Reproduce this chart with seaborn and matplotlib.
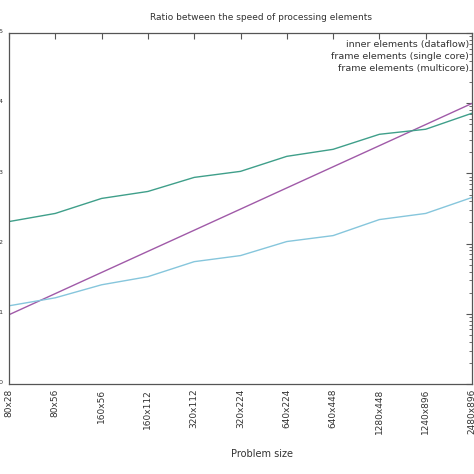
import matplotlib
matplotlib.use("Agg")
import matplotlib.pyplot as plt
import pandas as pd
import seaborn as sns

sizes = ["80x28", "80x56", "160x56", "160x112", "320x112", "320x224",
         "640x224", "640x448", "1280x448", "1240x896", "2480x896"]

inner_dataflow = [9.7, 19.4, 38.8, 77.6, 155, 310, 621, 1242, 2483, 4966, 9933]
frame_single = [206, 269, 440, 553, 877, 1069, 1750, 2203, 3606, 4256, 7194]
frame_multi = [13.0, 16.9, 25.9, 33.8, 55.3, 67.5, 107, 130, 220, 269, 454]

names = ["inner elements (dataflow)", "frame elements (single core)",
         "frame elements (multicore)"]
colors = ["#a05aa8", "#3f9f8a", "#86c6dc"]

df = pd.DataFrame({
    "pos": list(range(len(sizes))) * 3,
    "ratio": inner_dataflow + frame_single + frame_multi,
    "series": [n for n in names for _ in sizes],
})

sns.set_style("white")
plt.rcParams["font.family"] = ["DejaVu Sans"]

fig = plt.figure(figsize=(4.74, 4.74), dpi=100)
ax = fig.add_axes([9 / 474, 1 - 384 / 474, (472 - 9) / 474, (384 - 33) / 474])

sns.lineplot(data=df, x="pos", y="ratio", hue="series", palette=colors,
             linewidth=1.0, ax=ax, legend=True)

ax.set_yscale("log")
ax.set_ylim(1, 1e5)
ax.set_xlim(0, len(sizes) - 1)
ax.set_xticks(range(len(sizes)))
ax.set_xticklabels(sizes, rotation=90, fontsize=6.5, color="#333333")
ax.tick_params(axis="y", labelsize=6.5, labelcolor="#333333")
ax.tick_params(which="both", direction="in", top=True, right=True,
               color="#555555")
ax.tick_params(which="major", length=4, width=0.8)
ax.tick_params(which="minor", length=2, width=0.6)
for s in ax.spines.values():
    s.set_color("#555555")
    s.set_linewidth(0.9)

ax.set_xlabel("")
ax.set_ylabel("")
fig.text(262 / 474, 1 - 454 / 474, "Problem size", ha="center", va="center",
         fontsize=7, color="#333333")
fig.text(261 / 474, 1 - 17 / 474, "Ratio between the speed of processing elements",
         ha="center", va="center", fontsize=6.5, color="#333333")

# key samples sit right of the text, past the cropped edge
handles, labels = ax.get_legend_handles_labels()
ax.legend(handles, labels, markerfirst=False, frameon=False, fontsize=6.8,
          loc="upper right", bbox_to_anchor=(507 / 474, 1 - 36 / 474),
          bbox_transform=fig.transFigure, borderaxespad=0, labelspacing=0.35,
          handletextpad=1.6, labelcolor="#333333")

fig.savefig("out.png", dpi=100)
